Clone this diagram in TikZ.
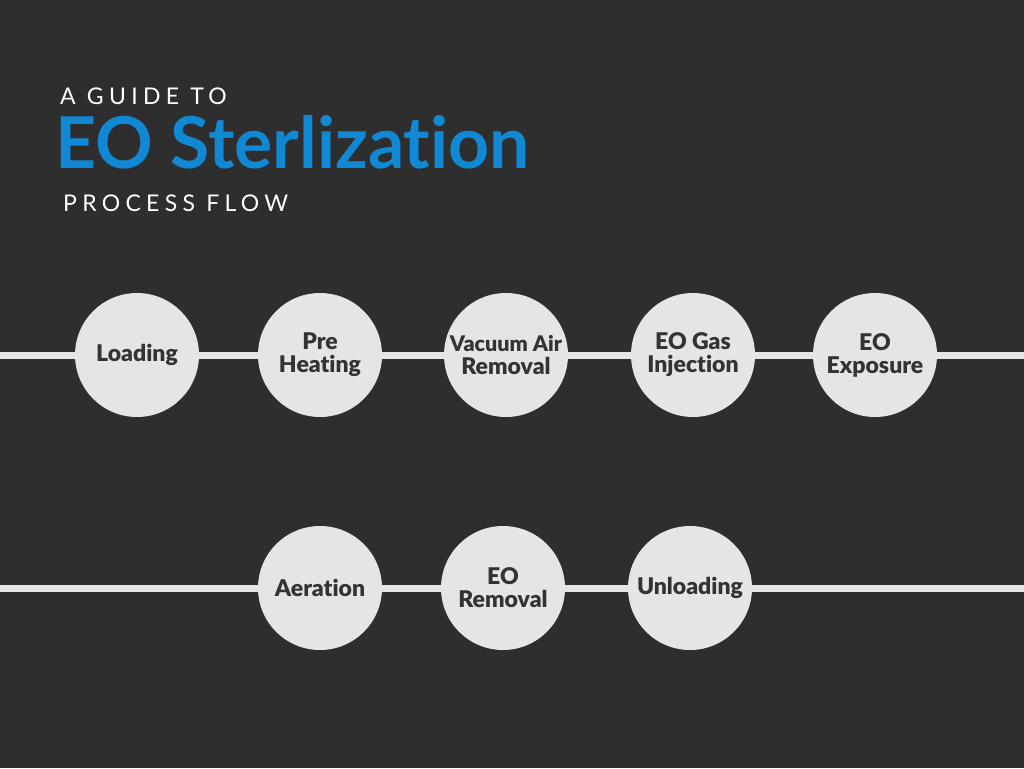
\documentclass[tikz,border=0pt]{standalone}
\usepackage{fontspec}
\usepackage{xcolor}
\setmainfont{Lato}[Ligatures=NoCommon]
\newfontfamily\spacedfont[LetterSpace=23]{Lato}
\newfontfamily\discfont[Ligatures=NoCommon]{Lato Black}
\definecolor{backdrop}{HTML}{2E2E2E}
\definecolor{disc}{HTML}{E5E5E5}
\definecolor{ink}{HTML}{333333}
\definecolor{headblue}{HTML}{1188D4}
\usetikzlibrary{positioning}

\begin{document}
\begin{tikzpicture}[
  x=1pt,
  y=-1pt,
  stepdisc/.style={
    circle,
    fill=disc,
    minimum size=124pt,
    inner sep=0pt,
    align=center,
    text=ink,
    font=\fontsize{23}{23}\discfont
  },
  track/.style={
    draw=disc,
    line width=7pt
  }
]
  \useasboundingbox (0,0) rectangle (1024,768);
  \fill[backdrop] (0,0) rectangle (1024,768);

  % heading
  \node[anchor=base west, inner sep=0pt, text=white] (guide) at (60,104)
    {\fontsize{23}{26}\spacedfont A GUIDE TO};
  \node[anchor=base west, inner sep=0pt, text=headblue] (title) at (55,168)
    {\fontsize{71.5}{80}\selectfont\bfseries EO Sterlization};
  \node[anchor=base west, inner sep=0pt, text=white] (flow) at (63,211)
    {\fontsize{23}{26}\spacedfont PROCESS FLOW};

  % first row
  \coordinate (rowa-in) at (0,355);
  \coordinate (rowa-out) at (1024,355);
  \node[stepdisc] (loading) at (137,355) {Loading};
  \node[stepdisc] (preheat) at (320,355) {Pre\\Heating};
  \node[stepdisc] (vacuum) at (506,355) {\fontsize{21.5}{21}\discfont Vacuum Air\\Removal};
  \node[stepdisc] (inject) at (693,355) {EO Gas\\Injection};
  \node[stepdisc] (expose) at (875,355) {EO\\Exposure};
  \draw[track] (rowa-in) -- (loading) -- (preheat) -- (vacuum)
    -- (inject) -- (expose) -- (rowa-out);

  % second row
  \coordinate (rowb-in) at (0,588);
  \coordinate (rowb-out) at (1024,588);
  \node[stepdisc] (aerate) at (320,588) {Aeration};
  \node[stepdisc] (removal) at (503,588) {EO\\Removal};
  \node[stepdisc] (unload) at (690,588) {Unloading};
  \draw[track] (rowb-in) -- (aerate) -- (removal) -- (unload) -- (rowb-out);
\end{tikzpicture}
\end{document}
